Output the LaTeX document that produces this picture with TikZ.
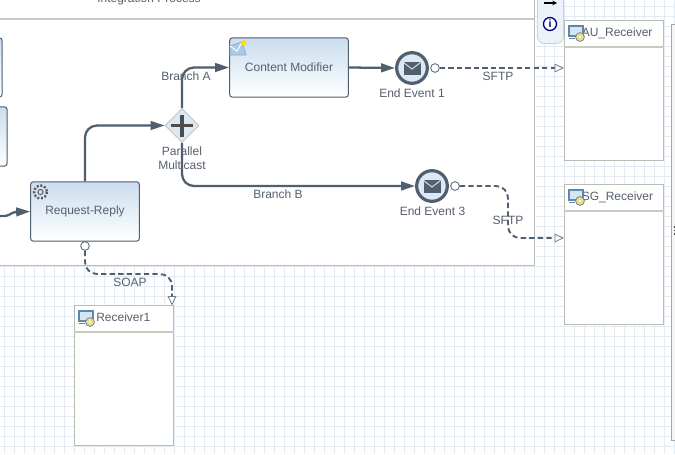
\documentclass[tikz,border=0pt]{standalone}
\usepackage{fontspec}
\setmainfont{Liberation Sans}
\usetikzlibrary{arrows.meta,shapes.geometric,calc}
\definecolor{gridc}{HTML}{E3EAF1}
\definecolor{edgec}{HTML}{4F5F70}
\definecolor{textc}{HTML}{56606C}
\definecolor{headc}{HTML}{C9CBBE}
\definecolor{sidec}{HTML}{B9BDB6}
\definecolor{topc}{HTML}{CBDDEE}
\definecolor{evc}{HTML}{DCE8F4}
\definecolor{iconc}{HTML}{5F87AE}
\definecolor{iconf}{HTML}{A9CBE8}
\tikzset{
  x=0.75pt,y=-0.75pt,
  lbl/.style={text=textc,font=\fontsize{9}{10.5}\selectfont,inner sep=0pt,align=center},
  task/.style={draw=edgec,line width=0.75pt,rounded corners=2pt,minimum width=81.5pt,minimum height=44.5pt,inner sep=0pt,top color=topc,bottom color=white,text=textc,font=\fontsize{9}{10.5}\selectfont},
  gate/.style={diamond,draw=sidec,line width=0.6pt,fill=evc,minimum width=25.5pt,minimum height=25.5pt,inner sep=0pt,aspect=1},
  endev/.style={circle,draw=edgec,line width=2.4pt,fill=evc,minimum size=23pt,inner sep=0pt},
  port/.style={circle,draw=edgec,line width=0.6pt,fill=white,minimum size=6.5pt,inner sep=0pt},
  pool/.style={draw=sidec,line width=0.6pt,fill=white,minimum width=74.5pt,minimum height=104.5pt,inner sep=0pt},
  flow/.style={draw=edgec,line width=1.7pt,rounded corners=9pt,-{Triangle[length=10.5pt,width=6.5pt,fill=edgec]}},
  msg/.style={draw=edgec,line width=1.4pt,dash pattern=on 4pt off 2.4pt,rounded corners=9pt,-{Triangle[open,length=7pt,width=6.5pt,line width=0.6pt,color=edgec!80]}},
  headline/.style={draw=headc,line width=1.5pt},
}
\newcommand{\mailicon}[1]{%
  \fill[edgec] ($(#1)+(-8.5,-6)$) rectangle ($(#1)+(8.5,6.5)$);
  \draw[evc,line width=0.7pt] ($(#1)+(-8.5,-5.5)$) -- ($(#1)+(0,1)$) -- ($(#1)+(8.5,-5.5)$);
}
\newcommand{\recvicon}[1]{%
  \draw[iconc,line width=1pt,fill=iconf!50] ($(#1)+(-8,-6)$) rectangle ($(#1)+(6,4)$);
  \draw[iconc,line width=0.7pt] ($(#1)+(-8,6.5)$) -- ($(#1)+(-2,6.5)$);
  \draw[gray,line width=0.6pt,fill=yellow!60!gray!60] ($(#1)+(3,5)$) circle[radius=4.4];
  \fill[white] ($(#1)+(3,5)$) circle[radius=1.2];
}
\begin{document}
\begin{tikzpicture}
\useasboundingbox (0,0) rectangle (675,454);
\clip (0,0) rectangle (675,454);
% canvas grid
\fill[white] (0,0) rectangle (675,454);
\foreach \gx in {4,14,...,674} \draw[gridc,line width=0.5pt] (\gx+0.5,0) -- (\gx+0.5,454);
\foreach \gy in {6,16,...,446} \draw[gridc,line width=0.5pt] (0,\gy+0.5) -- (675,\gy+0.5);
% side panel at the far right
\fill[white!96!black] (671,24) rectangle (675,440);
\draw[gray!70,line width=0.7pt] (675,24) -- (671,24) -- (671,440) -- (675,440);
\foreach \dy in {226,229.5,233} \fill[gray!50!black] (673.5,\dy) rectangle (675,\dy+1.5);
% integration process
\fill[white] (-2,-2) rectangle (534,265);
\draw[sidec,line width=0.7pt] (-2,265) -- (534,265) -- (534,-2);
\draw[headline] (0,18.5) -- (534,18.5);
\node[lbl,anchor=base] (title) at (149,2.5) {Integration Process};
% toolbar
\draw[sidec!70,line width=0.6pt,fill=evc!55,rounded corners=5pt] (537.5,-8) -- (537.5,43.5) -- (563.5,43.5) -- (563.5,-8);
\draw[black,line width=0.8pt,-{Stealth[length=3.5pt,width=3.5pt]}] (544,3) -- (557,3);
\draw[blue!50!black,line width=1pt,fill=white] (550,24) circle[radius=6.5];
\node[text=blue!50!black,inner sep=0pt,font=\bfseries\fontsize{8}{8}\selectfont] (infoi) at (550,24) {i};
% left clipped tasks
\node[task] (leftA) at (-52.3,67.5) {};
\node[task] (leftB) at (-47.3,136.5) {};
% pools
\node[pool] (au) at (614,90.5) {};
\draw[headline] (au.west |- 0,47) -- (au.east |- 0,47);
\node[pool] (sg) at (614,254.5) {};
\draw[headline] (sg.west |- 0,211) -- (sg.east |- 0,211);
\node[pool] (rc) at (124,375.5) {};
\draw[headline] (rc.west |- 0,332) -- (rc.east |- 0,332);
\node[lbl,anchor=base west] (aut) at (581.5,36) {AU\_Receiver};
\node[lbl,anchor=base west] (sgt) at (581.5,200) {SG\_Receiver};
\node[lbl,anchor=base west] (rct) at (96,321) {Receiver1};
\coordinate (ia) at (577,32);
\coordinate (ib) at (577,196);
\coordinate (ic) at (87,317);
\recvicon{ia}\recvicon{ib}\recvicon{ic}
% flow nodes
\node[task] (rr) at (85,211.5) {Request-Reply};
\node[task,minimum width=89pt] (cm) at (289,67.5) {Content Modifier};
\node[gate] (gw) at (182,125.5) {};
\node[endev] (e1) at (412,68) {};
\node[endev] (e3) at (432,186) {};
\node[port] (p1) at (435,68) {};
\node[port] (p3) at (455,186) {};
\node[port] (p0) at (85,246) {};
\coordinate (in) at (0,216);
\coordinate (ai) at (412,68);
\coordinate (bi) at (432,186);
\mailicon{ai}\mailicon{bi}
% connectors
\draw[flow] (rr.north) |- (gw.west);
\draw[flow] (gw.north) |- (cm.west);
\draw[flow] (gw.south) |- (e3.west);
\draw[flow] (cm.east) -- (e1.west);
\draw[flow,rounded corners=2pt] (in) -- (7,216) -- (14,212) -- (rr.west);
\coordinate (m1) at (508,186);
\coordinate (m2) at (508,238);
\coordinate (m3) at (85,274);
\coordinate (m4) at (172,274);
\draw[msg] (p1.east) -- (p1.east -| au.west);
\draw[msg] (p3.east) -- (m1) -- (m2) -- (m2 -| sg.west);
\draw[msg] (p0.south) -- (m3) -- (m4) -- (m4 |- rc.north);
% gateway plus
\draw[gray!60!black,line width=2.4pt] (gw.center) +(-11,0) -- +(11,0) +(0,-11) -- +(0,11);
% gear icon
\coordinate (gi) at (40.5,192);
\draw[gray!70!black,line width=1.8pt,dash pattern=on 1.5pt off 1.3pt] (gi) circle[radius=6.4];
\draw[gray!70!black,line width=0.7pt] (gi) circle[radius=2.6];
% content modifier icon
\coordinate (ci) at (238,49);
\draw[iconc!70,line width=0.6pt,fill=iconf] (ci) +(-8,-3) -- +(4,-7) -- +(8,6) -- +(-8,6) -- cycle;
\draw[white,line width=0.7pt] (ci) +(-8,-3) -- +(-1,2) -- +(4,-7);
\fill[yellow!80!orange] ($(ci)+(5.5,-6)$) circle[radius=2.8];
% labels
\node[lbl] (la) at (186,76.5) {Branch A};
\node[lbl] (lb) at (278,194.5) {Branch B};
\node[lbl] (lp) at (182,158) {Parallel\\Multicast};
\node[lbl] (le1) at (412,93.5) {End Event 1};
\node[lbl] (le3) at (432.5,211.5) {End Event 3};
\node[lbl] (ls1) at (498,76.5) {SFTP};
\node[lbl] (ls2) at (508,220.5) {SFTP};
\node[lbl] (ls3) at (130,282.5) {SOAP};
\end{tikzpicture}
\end{document}
